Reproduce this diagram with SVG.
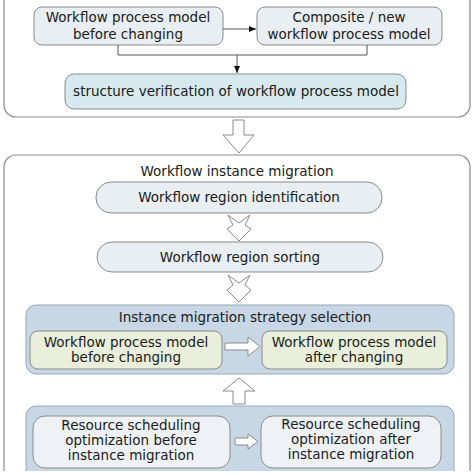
<svg xmlns="http://www.w3.org/2000/svg" width="474" height="474" viewBox="0 0 474 474">
<style>
text{font-family:"DejaVu Sans","Verdana",sans-serif;font-size:13.5px;fill:#1a1a1a;text-anchor:middle}
.outer{fill:#fff;stroke:#8a8a8a;stroke-width:1.2}
.box{fill:#e9eef3;stroke:#8a8a8a;stroke-width:1}
.cyan{fill:#d5e9ef;stroke:#8a8a8a;stroke-width:1}
.blue{fill:#c8d7e5;stroke:#9aa8b5;stroke-width:1}
.green{fill:#e9efda;stroke:#8a8a8a;stroke-width:1}
.light{fill:#eef2f6;stroke:#8a8a8a;stroke-width:1}
.hollow{fill:#fff;stroke:#8a8a8a;stroke-width:1}
.line{fill:none;stroke:#555;stroke-width:1}
</style>
<defs>
<marker id="ah" markerWidth="8" markerHeight="8" refX="7" refY="4" orient="auto" markerUnits="userSpaceOnUse">
<path d="M0,1 L7,4 L0,7 Z" fill="#111"/>
</marker>
<clipPath id="clip"><rect x="0" y="0" width="474" height="471"/></clipPath>
</defs>
<rect width="474" height="474" fill="#fff"/>
<g clip-path="url(#clip)">
<g id="container-top">
<rect class="outer" x="4" y="-20" width="466" height="137" rx="12"/>
</g>
<g id="container-migration">
<rect class="outer" x="4" y="155" width="466" height="340" rx="12"/>
<text x="237" y="176">Workflow instance migration</text>
</g>
<g id="n-before">
<rect class="box" x="34" y="7" width="189" height="38" rx="8"/>
<text x="128" y="22">Workflow process model</text>
<text x="128" y="39">before changing</text>
</g>
<g id="n-composite">
<rect class="box" x="257" y="7" width="185" height="38" rx="8"/>
<text x="349" y="22">Composite / new</text>
<text x="349" y="39">workflow process model</text>
</g>
<g id="n-verify">
<rect class="cyan" x="65" y="74" width="341" height="35" rx="9"/>
<text x="236" y="96">structure verification of workflow process model</text>
</g>
<g id="n-identify">
<rect class="box" x="96" y="182" width="286" height="31" rx="15"/>
<text x="239" y="202">Workflow region identification</text>
</g>
<g id="n-sorting">
<rect class="box" x="97" y="242" width="286" height="30" rx="15"/>
<text x="240" y="262">Workflow region sorting</text>
</g>
<g id="n-strategy">
<rect class="blue" x="26" y="305" width="428" height="69" rx="10"/>
<text x="245" y="322">Instance migration strategy selection</text>
</g>
<g id="n-model-before">
<rect class="green" x="30" y="331" width="192" height="38" rx="8"/>
<text x="126" y="347">Workflow process model</text>
<text x="126" y="362">before changing</text>
</g>
<g id="n-model-after">
<rect class="green" x="262" y="331" width="185" height="38" rx="8"/>
<text x="354" y="347">Workflow process model</text>
<text x="354" y="362">after changing</text>
</g>
<g id="n-resource">
<rect class="blue" x="26" y="406" width="428" height="90" rx="10"/>
</g>
<g id="n-res-before">
<rect class="light" x="33" y="416" width="197" height="52" rx="12"/>
<text x="131" y="430">Resource scheduling</text>
<text x="131" y="445">optimization before</text>
<text x="131" y="460">instance migration</text>
</g>
<g id="n-res-after">
<rect class="light" x="261" y="416" width="180" height="52" rx="12"/>
<text x="351" y="429">Resource scheduling</text>
<text x="351" y="444">optimization after</text>
<text x="351" y="459">instance migration</text>
</g>
<g id="connectors">
<path class="line" d="M223,29 L256,29" marker-end="url(#ah)"/>
<path class="line" d="M118,45 L118,55 L367,55 L367,45"/>
<path class="line" d="M237,55 L237,73" marker-end="url(#ah)"/>
<polygon class="hollow" points="233,120 244,120 244,135 254,135 239,153 223,135 233,135"/>
<polygon class="hollow" points="228,215 239,223 250,215 245,225 251,229 239,241 227,229 233,225"/>
<polygon class="hollow" points="228,275 239,283 250,275 245,285 251,290 239,302 227,290 233,285"/>
<polygon class="hollow" points="225,343 248,343 248,337 260,346.5 248,356 248,350 225,350"/>
<polygon class="hollow" points="233,404 245,404 245,391 255,391 239,378 223,391 233,391"/>
<polygon class="hollow" points="235,438 248,438 248,434 258,441.5 248,449 248,445 235,445"/>
</g>
</g>
</svg>
